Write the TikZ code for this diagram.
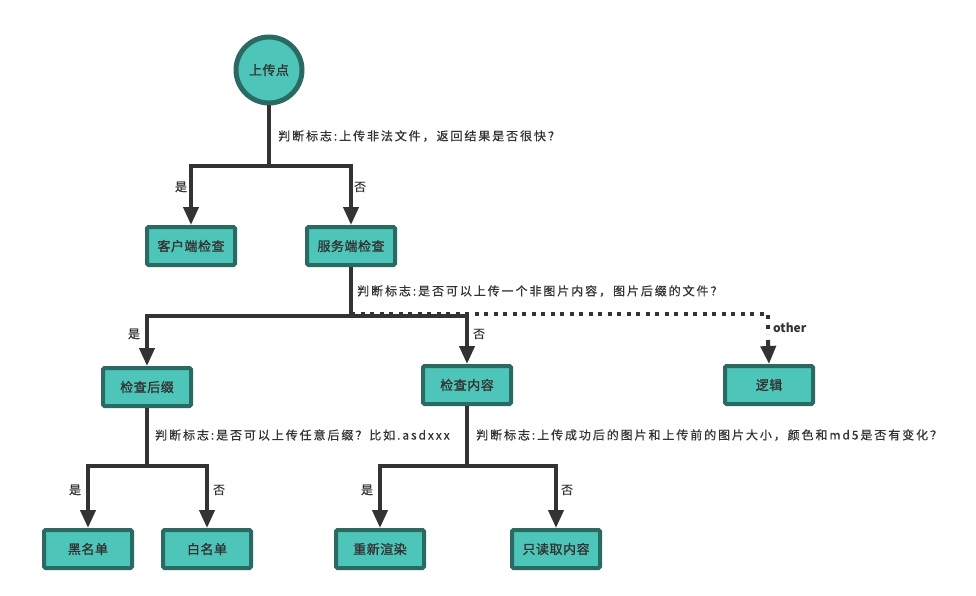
\documentclass[tikz,border=0pt]{standalone}
\usepackage{fontspec}
\setmainfont{Noto Sans CJK SC}
\newfontfamily\labfont[LetterSpace=16,FakeBold=0.6]{Noto Sans CJK SC}
\newfontfamily\boxfont[LetterSpace=4,FakeBold=1.2]{Noto Sans CJK SC}
\usetikzlibrary{arrows.meta}
\definecolor{fillc}{HTML}{4EC5B9}
\definecolor{bord}{HTML}{2B6A63}
\definecolor{linec}{HTML}{333333}
\tikzset{
  box/.style={draw=bord, line width=4pt, fill=fillc, minimum width=88pt, minimum height=38pt, rounded corners=1.5pt, font=\boxfont\fontsize{13}{15}\selectfont, text=linec, inner sep=0pt},
  conn/.style={draw=linec, line width=4pt},
  arr/.style={conn, -{Triangle[length=18pt,width=15pt]}},
  dotl/.style={draw=linec, line width=4pt, dash pattern=on 4pt off 5.5pt},
  lab/.style={font=\labfont\fontsize{12}{14}\selectfont, text=linec, anchor=west, inner sep=0pt},
  yn/.style={font=\labfont\fontsize{12}{14}\selectfont, text=linec, inner sep=0pt}
}
\begin{document}
\begin{tikzpicture}[x=1pt,y=-1pt]
\useasboundingbox (0,0) rectangle (976,596);
\node[circle, draw=bord, line width=5pt, fill=fillc, minimum size=66pt, inner sep=0pt, font=\boxfont\fontsize{13}{15}\selectfont, text=linec] (start) at (269,70) {上传点};
\node[box] (client) at (191,246) {客户端检查};
\node[box] (server) at (351,246) {服务端检查};
\node[box] (suffix) at (147,387) {检查后缀};
\node[box] (content) at (467,385) {检查内容};
\node[box] (logic) at (769,385) {逻辑};
\node[box] (black) at (88,549) {黑名单};
\node[box] (white) at (207,549) {白名单};
\node[box] (render) at (380,549) {重新渲染};
\node[box] (readc) at (556,549) {只读取内容};

\coordinate (j1) at (269,166);
\coordinate (j2) at (351,316);
\coordinate (j2d) at (351,314);
\coordinate (dc) at (768,314);
\coordinate (dend) at (768,334);
\coordinate (ds) at (768,340);
\coordinate (j3) at (147,466);
\coordinate (j4) at (467,466);

\draw[dotl] (j2d) -- (dc) -- (dend);
\draw[arr] (ds) -- (logic.north);

\draw[conn] (start.south) -- (j1);
\draw[arr] (j1) -| (client.north);
\draw[arr] (j1) -| (server.north);
\draw[conn] (server.south) -- (j2);
\draw[arr] (j2) -| (suffix.north);
\draw[arr] (j2) -| (content.north);
\draw[conn] (suffix.south) -- (j3);
\draw[arr] (j3) -| (black.north);
\draw[arr] (j3) -| (white.north);
\draw[conn] (content.south) -- (j4);
\draw[arr] (j4) -| (render.north);
\draw[arr] (j4) -| (readc.north);

\node[lab] (l1) at (278,136) {判断标志:上传非法文件，返回结果是否很快？};
\node[lab] (l2) at (357,291) {判断标志:是否可以上传一个非图片内容，图片后缀的文件？};
\node[lab] (l3) at (155,435) {判断标志:是否可以上传任意后缀？比如.asdxxx};
\node[lab] (l4) at (476,435) {判断标志:上传成功后的图片和上传前的图片大小，颜色和md5是否有变化？};

\node[yn] (y1) at (181,187) {是};
\node[yn] (n1) at (360,187) {否};
\node[yn] (y2) at (134,334) {是};
\node[yn] (n2) at (479,334) {否};
\node[yn, anchor=west, font=\fontsize{12}{14}\selectfont\bfseries] (o1) at (773,328) {other};
\node[yn] (y3) at (75,490) {是};
\node[yn] (n3) at (219,490) {否};
\node[yn] (y4) at (367,490) {是};
\node[yn] (n4) at (567,490) {否};
\end{tikzpicture}
\end{document}
